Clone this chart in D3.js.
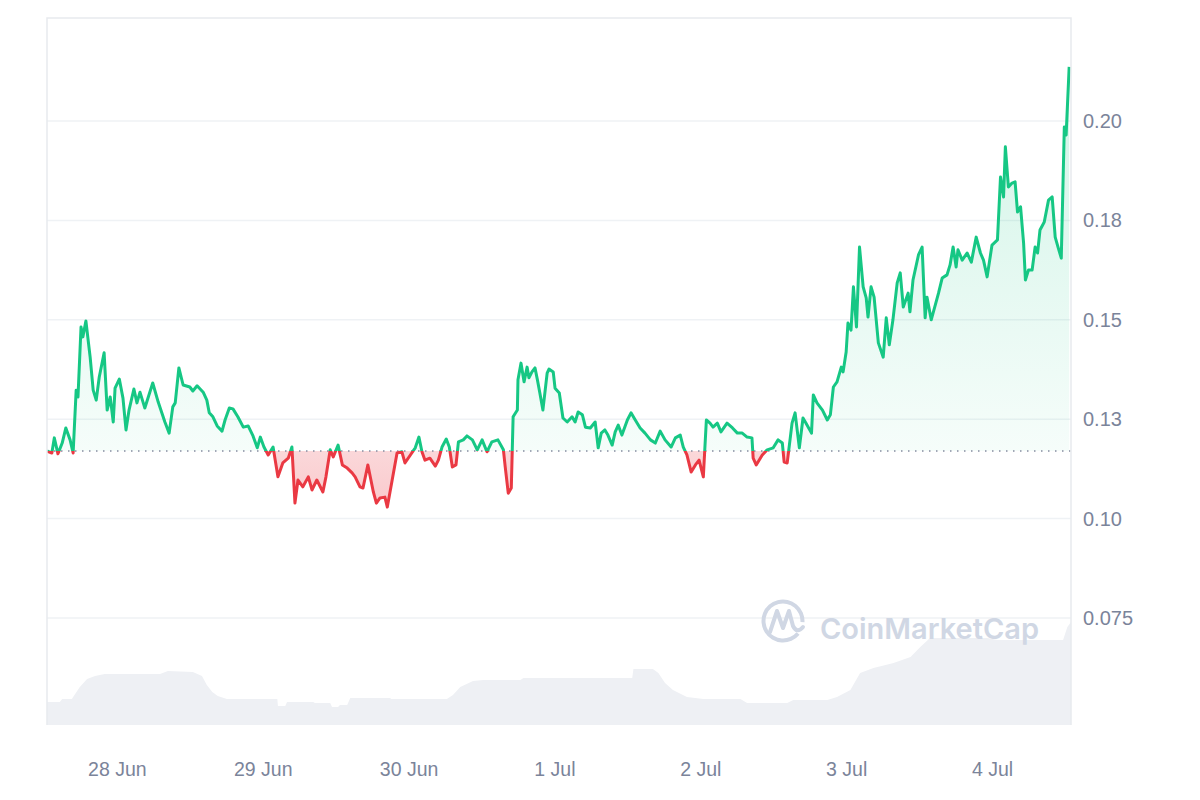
<!DOCTYPE html>
<html>
<head>
<meta charset="utf-8">
<script src="https://cdn.jsdelivr.net/npm/d3@7"></script>
<style>
  html, body { margin: 0; padding: 0; background: #fff; }
  svg text { font-family: "Liberation Sans", Arial, sans-serif; }
</style>
</head>
<body>
<div class="vis"></div>
<script>
// hours since 27 Jun 12:30, and price in USD
const priceHours = [
  0, 0.8, 1.2, 1.8, 2.5, 3.1, 3.8, 4.3, 4.8, 5.1,
  5.6, 5.9, 6.4, 7.1, 7.6, 8.1, 8.6, 9.4, 9.9, 10.4,
  10.9, 11.2, 11.9, 12.5, 13.0, 13.5, 14.3, 14.8, 15.3, 16.1,
  17.4, 18.3, 19.4, 20.1, 20.7, 21.1, 21.7, 22.4, 23.5, 24.0,
  24.7, 25.7, 26.3, 26.7, 27.3, 28.0, 28.8, 29.3, 30.0, 30.6,
  31.4, 32.3, 33.1, 33.9, 34.6, 35.1, 35.7, 36.4, 37.2, 38.0,
  38.8, 39.7, 40.3, 40.8, 41.3, 42.1, 43.0, 43.6, 44.4, 45.4,
  45.9, 46.6, 47.1, 47.9, 48.6, 49.4, 50.2, 50.7, 51.5, 52.0,
  52.8, 53.7, 54.2, 54.8, 55.6, 56.0, 56.8, 57.6, 58.4, 58.9,
  59.8, 60.6, 61.2, 61.7, 62.2, 63.0, 63.9, 64.4, 65.0, 65.7,
  66.2, 66.7, 67.3, 67.7, 68.5, 69.1, 70.0, 70.8, 71.6, 72.4,
  73.2, 74.2, 75.1, 75.4, 75.9, 76.4, 76.7, 77.4, 77.5, 78.0,
  78.5, 79.0, 79.3, 79.8, 80.3, 80.7, 81.1, 81.6, 82.3, 82.6,
  83.3, 83.6, 84.3, 84.9, 85.6, 86.4, 86.9, 87.4, 88.1, 88.6,
  89.4, 90.2, 90.7, 91.2, 91.8, 92.3, 93.0, 93.5, 94.0, 94.6,
  95.5, 96.1, 96.8, 97.6, 98.4, 99.3, 100.1, 100.9, 101.7, 102.7,
  103.4, 104.2, 104.7, 105.3, 106.0, 106.7, 107.3, 108.0, 108.5, 109.1,
  109.6, 110.3, 110.9, 111.9, 112.8, 113.6, 114.4, 115.2, 116.0, 116.2,
  116.7, 117.7, 118.5, 119.5, 120.3, 121.0, 121.3, 121.8, 122.6, 123.1,
  123.8, 124.4, 124.9, 125.8, 126.1, 126.7, 127.6, 128.4, 128.9, 129.4,
  130.0, 130.7, 131.0, 131.5, 131.8, 132.3, 132.7, 133.2, 133.7, 134.3,
  134.8, 135.1, 135.6, 136.1, 136.8, 137.6, 138.1, 138.6, 139.2, 139.9,
  140.4, 140.9, 141.7, 142.0, 142.5, 143.4, 144.0, 144.5, 144.8, 145.5,
  146.7, 147.3, 148.1, 148.6, 149.1, 149.6, 149.9, 150.6, 151.4, 152.1,
  152.9, 153.6, 154.1, 154.7, 155.5, 156.4, 156.9, 157.4, 157.7, 158.2,
  158.8, 159.3, 159.7, 160.2, 160.7, 161.0, 161.5, 162.1, 162.6, 163.0,
  163.4, 164.1, 164.8, 165.4, 165.9, 166.4, 166.9, 167.4, 167.7, 168.2
];
const prices = [
  0.1170, 0.1165, 0.1203, 0.1163, 0.1190, 0.1228, 0.1198, 0.1165, 0.1323, 0.1306,
  0.1482, 0.1457, 0.1497, 0.1406, 0.1323, 0.1298, 0.1356, 0.1417, 0.1273, 0.1306,
  0.1243, 0.1328, 0.1351, 0.1303, 0.1223, 0.1273, 0.1326, 0.1291, 0.1318, 0.1278,
  0.1341, 0.1293, 0.1243, 0.1215, 0.1281, 0.1291, 0.1379, 0.1336, 0.1331, 0.1321,
  0.1334, 0.1318, 0.1298, 0.1266, 0.1256, 0.1233, 0.1220, 0.1248, 0.1278, 0.1276,
  0.1256, 0.1230, 0.1233, 0.1208, 0.1178, 0.1205, 0.1180, 0.1160, 0.1180, 0.1105,
  0.1140, 0.1152, 0.1180, 0.1039, 0.1097, 0.1080, 0.1105, 0.1072, 0.1097, 0.1067,
  0.1105, 0.1173, 0.1155, 0.1185, 0.1135, 0.1127, 0.1115, 0.1105, 0.1080, 0.1077,
  0.1135, 0.1067, 0.1039, 0.1052, 0.1054, 0.1029, 0.1097, 0.1165, 0.1168, 0.1140,
  0.1160, 0.1178, 0.1205, 0.1168, 0.1147, 0.1152, 0.1132, 0.1147, 0.1180, 0.1200,
  0.1180, 0.1130, 0.1135, 0.1193, 0.1198, 0.1208, 0.1198, 0.1173, 0.1198, 0.1168,
  0.1193, 0.1198, 0.1173, 0.1130, 0.1064, 0.1077, 0.1256, 0.1273, 0.1349, 0.1391,
  0.1344, 0.1381, 0.1354, 0.1369, 0.1379, 0.1349, 0.1316, 0.1273, 0.1366, 0.1376,
  0.1369, 0.1328, 0.1316, 0.1253, 0.1243, 0.1256, 0.1243, 0.1268, 0.1261, 0.1230,
  0.1228, 0.1243, 0.1178, 0.1215, 0.1223, 0.1210, 0.1185, 0.1218, 0.1235, 0.1210,
  0.1248, 0.1266, 0.1248, 0.1228, 0.1215, 0.1198, 0.1190, 0.1220, 0.1198, 0.1180,
  0.1203, 0.1210, 0.1180, 0.1160, 0.1117, 0.1135, 0.1147, 0.1105, 0.1248, 0.1240,
  0.1230, 0.1240, 0.1218, 0.1240, 0.1228, 0.1215, 0.1215, 0.1205, 0.1203, 0.1152,
  0.1135, 0.1160, 0.1173, 0.1178, 0.1198, 0.1190, 0.1142, 0.1140, 0.1240, 0.1266,
  0.1178, 0.1253, 0.1240, 0.1215, 0.1311, 0.1291, 0.1273, 0.1248, 0.1261, 0.1331,
  0.1344, 0.1381, 0.1369, 0.1419, 0.1492, 0.1474, 0.1583, 0.1482, 0.1683, 0.1583,
  0.1555, 0.1507, 0.1583, 0.1557, 0.1442, 0.1406, 0.1505, 0.1437, 0.1500, 0.1593,
  0.1618, 0.1532, 0.1567, 0.1520, 0.1600, 0.1663, 0.1683, 0.1505, 0.1557, 0.1500,
  0.1567, 0.1605, 0.1613, 0.1638, 0.1683, 0.1633, 0.1676, 0.1650, 0.1668, 0.1645,
  0.1708, 0.1668, 0.1650, 0.1608, 0.1688, 0.1701, 0.1859, 0.1809, 0.1935, 0.1834,
  0.1844, 0.1847, 0.1771, 0.1784, 0.1693, 0.1600, 0.1625, 0.1625, 0.1683, 0.1668,
  0.1726, 0.1746, 0.1801, 0.1809, 0.1708, 0.1681, 0.1655, 0.1985, 0.1965, 0.2136
];

// volume (millions USD), same hour offsets
const volumeHours = [
  0, 2.1, 2.5, 4.1, 4.3, 5.4, 6.6, 7.9, 9.5, 18.6,
  19.9, 24.0, 25.5, 26.3, 27.2, 28.1, 29.6, 37.9, 38.0, 39.2,
  39.5, 43.8, 44.1, 46.6, 46.9, 47.9, 48.2, 49.4, 49.9, 56.5,
  56.6, 65.8, 66.8, 68.0, 70.1, 71.8, 77.9, 78.4, 96.3, 96.5,
  99.7, 100.6, 101.7, 103.0, 105.3, 108.0, 114.1, 115.2, 121.8, 122.8,
  128.4, 130.0, 132.2, 133.8, 136.0, 139.3, 142.1, 143.7, 145.3, 154.7,
  156.4, 167.2, 167.9, 168.5
];
const volumes = [
  1.15, 1.15, 1.30, 1.30, 1.40, 1.90, 2.30, 2.45, 2.55, 2.55,
  2.70, 2.65, 2.45, 2.00, 1.65, 1.45, 1.30, 1.30, 0.95, 0.95,
  1.15, 1.15, 1.10, 1.10, 0.90, 0.90, 1.00, 1.00, 1.35, 1.35,
  1.30, 1.30, 1.50, 1.90, 2.20, 2.25, 2.25, 2.35, 2.35, 2.80,
  2.80, 2.60, 2.10, 1.75, 1.40, 1.30, 1.30, 1.10, 1.10, 1.25,
  1.25, 1.40, 1.75, 2.60, 2.85, 3.10, 3.40, 3.90, 4.35, 4.35,
  4.25, 4.25, 4.90, 5.15
];

const dayTicks = ["2023-06-28", "2023-06-29", "2023-06-30", "2023-07-01", "2023-07-02", "2023-07-03", "2023-07-04"];
const priceTicks = [0.075, 0.1, 0.125, 0.15, 0.175, 0.2];
const priceTickLabels = ["0.075", "0.10", "0.13", "0.15", "0.18", "0.20"];

const start = new Date(2023, 5, 27, 12, 30);
const hourToDate = h => new Date(start.getTime() + h * 3600e3);

const priceData = priceHours.map((h, i) => ({ date: hourToDate(h), value: prices[i] }));
const volumeData = volumeHours.map((h, i) => ({ date: hourToDate(h), value: volumes[i] }));
const baseValue = prices[0];

const width = 1200, height = 800;
const plot = { left: 47, right: 1071, top: 18, bottom: 725 };

const green = "#16c784", red = "#ea3943";

let svg = d3.select(".vis")
    .append("svg")
    .attr("width", width)
    .attr("height", height);

const x = d3.scaleTime()
    .domain([start, hourToDate(168.5)])
    .range([plot.left, plot.right]);

const y = d3.scaleLinear()
    .domain([0.075, 0.2])
    .range([618, 121]);

const yVol = d3.scaleLinear()
    .domain([0, 6])
    .range([plot.bottom, 605]);

const baseY = y(baseValue);

// defs: gradients and clip paths
const defs = svg.append("defs");

const gUp = defs.append("linearGradient")
    .attr("id", "gradUp")
    .attr("gradientUnits", "userSpaceOnUse")
    .attr("x1", 0).attr("x2", 0)
    .attr("y1", y(d3.max(prices))).attr("y2", baseY);
gUp.append("stop").attr("offset", "0%").attr("stop-color", green).attr("stop-opacity", 0.2);
gUp.append("stop").attr("offset", "100%").attr("stop-color", green).attr("stop-opacity", 0.04);

const gDown = defs.append("linearGradient")
    .attr("id", "gradDown")
    .attr("gradientUnits", "userSpaceOnUse")
    .attr("x1", 0).attr("x2", 0)
    .attr("y1", baseY).attr("y2", y(d3.min(prices)));
gDown.append("stop").attr("offset", "0%").attr("stop-color", red).attr("stop-opacity", 0.2);
gDown.append("stop").attr("offset", "100%").attr("stop-color", red).attr("stop-opacity", 0.27);

defs.append("clipPath").attr("id", "clipUp")
    .append("rect")
    .attr("x", plot.left).attr("y", 0)
    .attr("width", plot.right - plot.left).attr("height", baseY);

defs.append("clipPath").attr("id", "clipDown")
    .append("rect")
    .attr("x", plot.left).attr("y", baseY)
    .attr("width", plot.right - plot.left).attr("height", plot.bottom - baseY);

// grid lines
svg.append("g")
    .selectAll("line")
    .data(priceTicks)
    .join("line")
    .attr("x1", plot.left)
    .attr("x2", plot.right)
    .attr("y1", d => y(d))
    .attr("y2", d => y(d))
    .attr("stroke", "#eff2f5")
    .attr("stroke-width", 1.5);

// volume
svg.append("path")
    .datum(volumeData)
    .attr("fill", "#eef0f4")
    .attr("d", d3.area()
        .x(d => x(d.date))
        .y0(plot.bottom)
        .y1(d => yVol(d.value)));

// watermark
const wm = svg.append("g").attr("fill", "none").attr("stroke", "#d0d7e4");
wm.append("path")
    .attr("transform", "translate(783,621)")
    .attr("fill", "#d0d7e4")
    .attr("stroke", "none")
    .attr("d", d3.arc().innerRadius(17.5).outerRadius(21.5)
        .startAngle(0.72 * Math.PI).endAngle(2.52 * Math.PI)());
wm.append("path")
    .attr("stroke-width", 4)
    .attr("stroke-linejoin", "round")
    .attr("stroke-linecap", "round")
    .attr("d", "M770,632 L777,611 L783,628 L789,611 L793,626 Q797,634 803,627");
svg.append("text")
    .attr("x", 820)
    .attr("y", 639)
    .attr("fill", "#d0d7e4")
    .style("font-family", "Inter, 'Open Sans', sans-serif")
    .style("font-size", "29px")
    .style("font-weight", 600)
    .text("CoinMarketCap");

// area fills
const area = d3.area()
    .x(d => x(d.date))
    .y0(baseY)
    .y1(d => y(d.value));

svg.append("path")
    .datum(priceData)
    .attr("clip-path", "url(#clipUp)")
    .attr("fill", "url(#gradUp)")
    .attr("d", area);

svg.append("path")
    .datum(priceData)
    .attr("clip-path", "url(#clipDown)")
    .attr("fill", "url(#gradDown)")
    .attr("d", area);

// baseline at the opening price
svg.append("line")
    .attr("x1", plot.left)
    .attr("x2", plot.right)
    .attr("y1", baseY)
    .attr("y2", baseY)
    .attr("stroke", "#858ca0")
    .attr("stroke-width", 1.5)
    .attr("stroke-dasharray", "1.5,5.5");

// price line, green above / red below
const line = d3.line()
    .x(d => x(d.date))
    .y(d => y(d.value));

svg.append("path")
    .datum(priceData)
    .attr("clip-path", "url(#clipUp)")
    .attr("fill", "none")
    .attr("stroke", green)
    .attr("stroke-width", 3)
    .attr("stroke-linejoin", "round")
    .attr("d", line);

svg.append("path")
    .datum(priceData)
    .attr("clip-path", "url(#clipDown)")
    .attr("fill", "none")
    .attr("stroke", red)
    .attr("stroke-width", 3)
    .attr("stroke-linejoin", "round")
    .attr("d", line);

// frame
svg.append("path")
    .attr("fill", "none")
    .attr("stroke", "#e8eaee")
    .attr("stroke-width", 1.5)
    .attr("d", `M${plot.left},${plot.bottom} V${plot.top} H${plot.right} V${plot.bottom}`);

// axes
const yAxis = svg.append("g")
    .attr("transform", "translate(" + plot.right + ",0)")
    .call(d3.axisRight(y)
        .tickValues(priceTicks)
        .tickFormat((d, i) => priceTickLabels[i])
        .tickSize(0)
        .tickPadding(12));
yAxis.select(".domain").remove();
yAxis.selectAll("text")
    .attr("fill", "#7b849a")
    .style("font-size", "20px");

const xAxis = svg.append("g")
    .attr("transform", "translate(0," + plot.bottom + ")")
    .call(d3.axisBottom(x)
        .tickValues(dayTicks.map(d => d3.timeParse("%Y-%m-%d")(d)))
        .tickFormat(d3.timeFormat("%-d %b"))
        .tickSize(0)
        .tickPadding(37));
xAxis.select(".domain").remove();
xAxis.selectAll("text")
    .attr("fill", "#7b849a")
    .style("font-size", "19.5px");
</script>
</body>
</html>
